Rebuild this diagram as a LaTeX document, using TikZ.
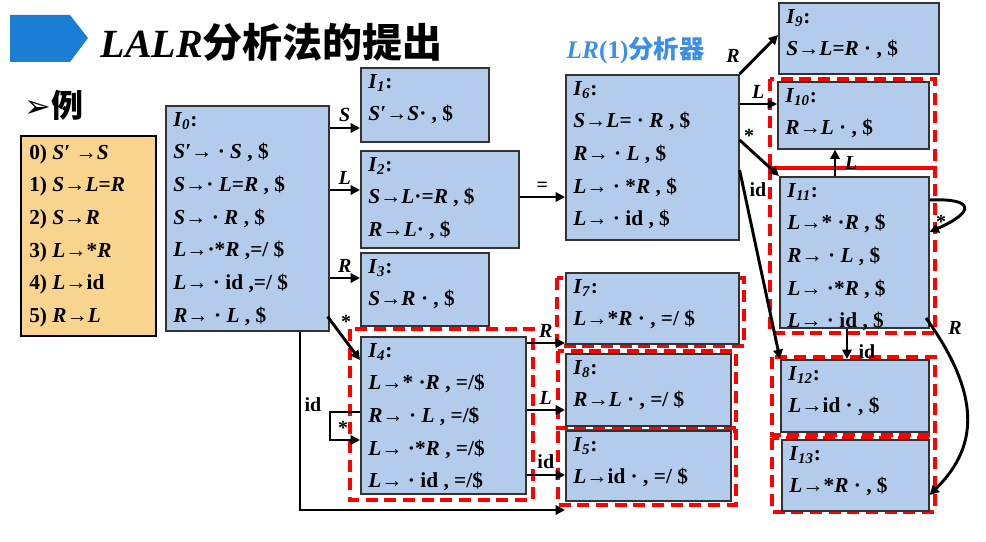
\documentclass[tikz,border=0pt]{standalone}
\usepackage{fontspec}
\setmainfont{Liberation Serif}
\newfontfamily\cjk{Noto Sans CJK SC}
\newfontfamily\dejavu{DejaVu Sans}
\usetikzlibrary{arrows.meta}
\newcommand\V[1]{\textit{#1}}
\newcommand\Is[1]{\textit{I}\textsubscript{\textit{#1}}:}
\definecolor{boxblue}{HTML}{B4CCEC}
\definecolor{gram}{HTML}{F8D48E}
\definecolor{titleblue}{HTML}{1A7FD4}
\definecolor{lrblue}{HTML}{3C8EE6}
\tikzset{
 box/.style={draw=black!80, line width=1.2pt, fill=boxblue, anchor=north west, inner sep=0pt},
 txt/.style={anchor=north west, align=left, font=\fontsize{16}{24.5}\selectfont\bfseries, inner sep=0pt},
 lab/.style={font=\fontsize{15}{17}\selectfont\bfseries},
 arr/.style={-{Triangle[length=7pt,width=7pt]}, line width=2.2pt},
 red/.style={draw=red, line width=2.6pt, dash pattern=on 9pt off 5pt},
}
\newcommand\bx[6]{\node[box, minimum width=#4*0.75pt, minimum height=#5*0.75pt] (#1) at (#2,#3) {};
 \node[txt] at ([shift={(8,7)}]#1.north west) {#6};}
\begin{document}
\begin{tikzpicture}[x=0.75pt,y=-0.75pt]
\useasboundingbox (0,0) rectangle (986,542);
% title
\fill[titleblue] (10,15) -- (70,15) -- (88,38) -- (70,62) -- (10,62) -- cycle;
\node[anchor=west, font=\fontsize{30}{32}\selectfont\bfseries] (title) at (96,42) {\textit{LALR}{\cjk 分析法的提出}};
\node[anchor=west, font=\fontsize{24}{26}\selectfont\bfseries] (ex) at (20,105) {{\dejavu ➢}{\cjk 例}};
\node[anchor=west, font=\fontsize{19}{22}\selectfont\bfseries, text=lrblue] (lr) at (562,50) {\textit{LR}(1){\cjk 分析器}};
% grammar
\node[draw=black, line width=1.2pt, fill=gram, anchor=north west, minimum width=135*0.75pt, minimum height=200*0.75pt] (G) at (20,135) {};
\node[txt, font=\fontsize{16}{24.5}\selectfont\bfseries] at ([shift={(9,9)}]G.north west) {0) \V{S′} →\V{S}\\1) \V{S}→\V{L}=\V{R}\\2) \V{S}→\V{R}\\3) \V{L}→*\V{R}\\4) \V{L}→id\\5) \V{R}→\V{L}};
% red dashed groups
\draw[red] (350,329) rectangle (533,500);
\draw[red] (557,278) rectangle (744,346);
\draw[red] (558,351) rectangle (736,428);
\draw[red] (558,431) rectangle (736,505);
\draw[red] (770,79) rectangle (935,168);
\draw[red] (770,168) rectangle (935,333);
\draw[red] (772,357) rectangle (935,435);
\draw[red] (772,438) rectangle (935,512);
% boxes
\bx{I0}{165}{105}{163}{225}{\Is{0}\\\V{S′}→ · \V{S} , \$\\\V{S}→· \V{L}=\V{R} , \$\\\V{S}→ · \V{R} , \$\\\V{L}→·*\V{R} ,=/ \$\\\V{L}→ · id ,=/ \$\\\V{R}→ · \V{L} , \$}
\bx{I1}{360}{67}{128}{74}{\Is{1}\\\V{S′}→\V{S}· , \$}
\bx{I2}{360}{150}{158}{97}{\Is{2}\\\V{S}→\V{L}·=\V{R} , \$\\\V{R}→\V{L}· , \$}
\bx{I3}{360}{252}{128}{73}{\Is{3}\\\V{S}→\V{R} · , \$}
\bx{I4}{360}{336}{165}{157}{\Is{4}\\\V{L}→* ·\V{R} , =/\$\\\V{R}→ · \V{L} , =/\$\\\V{L}→ ·*\V{R} , =/\$\\\V{L}→ · id , =/\$}
\bx{I6}{565}{74}{173}{165}{\Is{6}\\\V{S}→\V{L}= · \V{R} , \$\\\V{R}→ · \V{L} , \$\\\V{L}→ · *\V{R} , \$\\\V{L}→ · id , \$}
\bx{I7}{565}{272}{173}{71}{\Is{7}\\\V{L}→*\V{R} · , =/ \$}
\bx{I8}{565}{353}{165}{72}{\Is{8}\\\V{R}→\V{L} · , =/ \$}
\bx{I5}{565}{430}{165}{70}{\Is{5}\\\V{L}→id · , =/ \$}
\bx{I9}{778}{2}{160}{71}{\Is{9}\\\V{S}→\V{L}=\V{R} · , \$}
\bx{I10}{777}{81}{151}{67}{\Is{10}\\\V{R}→\V{L} · , \$}
\bx{I11}{779}{176}{149}{151}{\Is{11}\\\V{L}→* ·\V{R} , \$\\\V{R}→ · \V{L} , \$\\\V{L}→ ·*\V{R} , \$\\\V{L}→ · id , \$}
\bx{I12}{780}{359}{148}{72}{\Is{12}\\\V{L}→id · , \$}
\bx{I13}{781}{439}{147}{71}{\Is{13}\\\V{L}→*\V{R} · , \$}
% edges from I0
\draw[arr] (I0.east |- 0,128) -- node[lab, above] {\V{S}} (I1.west |- 0,128);
\draw[arr] (I0.east |- 0,190) -- node[lab, above] {\V{L}} (I2.west |- 0,190);
\draw[arr] (I0.east |- 0,278) -- node[lab, above] {\V{R}} (I3.west |- 0,278);
\draw[arr] (I0.south east) ++(-2,-15) -- (I4.west |- 0,360);
\node[lab] at (346,322) {*};
\draw[arr] (I0.south -| 300,0) -- (300,510) -- (I5.west |- 0,510);
\node[lab] at (313,405) {id};
% I4 edges
\draw[arr] (I4.west |- 0,412) -- (330,412) -- (330,440) -- (I4.west |- 0,440);
\node[lab] at (343,428) {*};
\draw[arr] (I4.east |- 0,343) -- node[lab, above] {\V{R}} (I7.west |- 0,343);
\draw[arr] (I4.east |- 0,410) -- node[lab, above] {\V{L}} (I8.west |- 0,410);
\draw[arr] (I4.east |- 0,475) -- node[lab, above] {id} (I5.west |- 0,475);
% I2 -> I6
\draw[arr] (I2.east |- 0,197) -- node[lab, above] {=} (I6.west |- 0,197);
% I6 edges
\draw[arr] (I6.north east) -- (I9.west |- 0,35);
\node[lab] at (733,56) {\V{R}};
\draw[arr] (I6.east |- 0,104) -- node[lab, above] {\V{L}} (I10.west |- 0,104);
\draw[arr] (I6.east |- 0,140) -- (I11.north west);
\node[lab] at (749,136) {*};
\draw[arr] (I6.east |- 0,170) -- (I12.north west);
\node[lab] at (758,190) {id};
% I11 edges
\draw[arr] (I11.north -| 835,0) -- (I10.south -| 835,0);
\node[lab] at (851,163) {\V{L}};
\draw[arr] (I11.east |- 0,200) .. controls (975,198) and (975,212) .. (I11.east |- 0,232);
\node[lab] at (941,222) {*};
\draw[arr] (I11.south -| 847,0) -- (I12.north -| 847,0);
\node[lab] at (867,352) {id};
\draw[arr] (926,318) .. controls (985,400) and (975,450) .. (I13.east |- 0,495);
\node[lab] at (955,328) {\V{R}};
\end{tikzpicture}
\end{document}
